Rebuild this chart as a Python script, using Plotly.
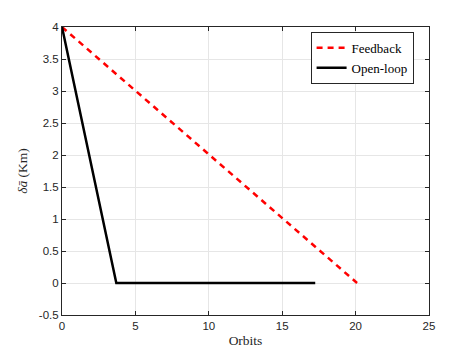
import plotly.graph_objects as go

feedback_x = [0, 20.1]
feedback_y = [4, 0]
openloop_x = [0, 3.7, 17.25]
openloop_y = [4, 0, 0]
x_ticks = [0, 5, 10, 15, 20, 25]
y_ticks = [-0.5, 0, 0.5, 1, 1.5, 2, 2.5, 3, 3.5, 4]

fig = go.Figure()
fig.add_trace(go.Scatter(x=feedback_x, y=feedback_y, mode="lines", name="Feedback",
                         line=dict(color="#ff0000", width=2.5, dash="6px,5px")))
fig.add_trace(go.Scatter(x=openloop_x, y=openloop_y, mode="lines", name="Open-loop",
                         line=dict(color="#000000", width=2.5)))

axis_common = dict(showline=True, linecolor="#262626", linewidth=1, mirror="ticks",
                   ticks="inside", ticklen=4, tickcolor="#262626",
                   showgrid=True, gridcolor="#e6e6e6", gridwidth=1, zeroline=False,
                   automargin=False,
                   tickfont=dict(family="Liberation Sans, Arial", size=11.5, color="#262626"))

fig.update_layout(
    width=466, height=347,
    margin=dict(l=54, r=45, t=19, b=40),
    paper_bgcolor="white", plot_bgcolor="white",
    xaxis=dict(range=[0, 25], tickvals=x_ticks, ticktext=[str(v) for v in x_ticks],
               title=dict(text="Orbits", standoff=4,
                          font=dict(family="Liberation Serif, Times New Roman", size=13.5, color="#262626")),
               **axis_common),
    yaxis=dict(range=[-0.5, 4], tickvals=y_ticks, ticktext=[f"{v:g}" for v in y_ticks],
               title=dict(text="<i>δā</i> (Km)", standoff=8,
                          font=dict(family="Liberation Serif, Times New Roman", size=13.5, color="#262626")),
               **axis_common),
    legend=dict(x=0.958, y=0.983, xanchor="right", yanchor="top",
                bgcolor="white", bordercolor="#262626", borderwidth=1,
                font=dict(family="Liberation Serif, Times New Roman", size=13, color="#000000"),
                tracegroupgap=0, itemwidth=30),
    showlegend=True,
)

fig.write_html("out.html")
